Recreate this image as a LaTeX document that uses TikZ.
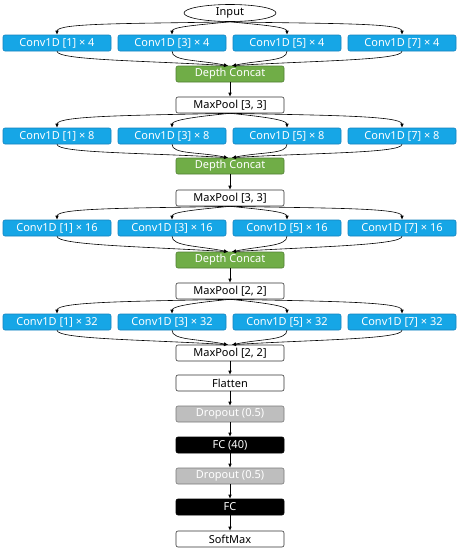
\documentclass[tikz,border=0pt]{standalone}
\usepackage{fontspec}
\setmainfont{Noto Sans}
\usetikzlibrary{arrows.meta,shapes.geometric}
\definecolor{convblue}{RGB}{22,166,230}
\definecolor{convedge}{RGB}{20,130,190}
\definecolor{catgreen}{RGB}{112,173,71}
\definecolor{catedge}{RGB}{80,126,50}
\definecolor{dropgray}{RGB}{190,190,190}
\definecolor{dropedge}{RGB}{120,120,120}
\begin{document}
\begin{tikzpicture}[x=1pt,y=-1pt,
  box/.style={rectangle,rounded corners=2pt,minimum width=108pt,minimum height=16pt,inner sep=0pt,font=\fontsize{11}{12}\selectfont,line width=0.6pt},
  conv/.style={box,fill=convblue,draw=convedge,text=white},
  concat/.style={box,fill=catgreen,draw=catedge,text=white},
  plain/.style={box,fill=white,draw=black!80,text=black},
  drop/.style={box,fill=dropgray,draw=dropedge,text=white},
  fcbox/.style={box,fill=black,draw=black,text=white},
  arr/.style={-{Latex[length=4pt,width=3.6pt]},line width=0.6pt,black}]
\useasboundingbox (0,0) rectangle (460,550);
\node[ellipse,draw,line width=0.6pt,minimum width=92pt,minimum height=17pt,inner sep=0pt,font=\fontsize{11}{12}\selectfont] (in) at (230,13) {Input};
\foreach \r/\y/\n in {1/43/4,2/136/8,3/228/16,4/322/32}{
  \foreach \k/\x in {1/57,3/172,5/287,7/402}{
    \node[conv] (c\r\k) at (\x,\y) {Conv1D [\k] × \n};
  }
}
\node[concat] (dc1) at (230,74) {Depth Concat};
\node[concat] (dc2) at (230,166) {Depth Concat};
\node[concat] (dc3) at (230,260) {Depth Concat};
\node[plain] (mp1) at (230,105) {MaxPool [3, 3]};
\node[plain] (mp2) at (230,198) {MaxPool [3, 3]};
\node[plain] (mp3) at (230,291) {MaxPool [2, 2]};
\node[plain] (mp4) at (230,353) {MaxPool [2, 2]};
\node[plain] (fl) at (230,383) {Flatten};
\node[drop] (do1) at (230,414) {Dropout (0.5)};
\node[fcbox] (fc1) at (230,445) {FC (40)};
\node[drop] (do2) at (230,476) {Dropout (0.5)};
\node[fcbox] (fc2) at (230,507) {FC};
\node[plain] (sm) at (230,539) {SoftMax};
\foreach \s/\r in {in/1,mp1/2,mp2/3,mp3/4}{
  \draw[arr] (\s.south) .. controls +(-95,2) and +(0,-12) .. (c\r1.north);
  \draw[arr] (\s.south) .. controls +(-30,3) and +(0,-8) .. (c\r3.north);
  \draw[arr] (\s.south) .. controls +(30,3) and +(0,-8) .. (c\r5.north);
  \draw[arr] (\s.south) .. controls +(95,2) and +(0,-12) .. (c\r7.north);
}
\foreach \r/\t in {1/dc1,2/dc2,3/dc3,4/mp4}{
  \draw[arr] (c\r1.south) .. controls +(0,9) and +(-80,-5) .. ([xshift=-2pt]\t.north);
  \draw[arr] (c\r3.south) .. controls +(0,10) and +(-30,-6) .. ([xshift=-2pt]\t.north);
  \draw[arr] (c\r5.south) .. controls +(0,10) and +(30,-6) .. ([xshift=2pt]\t.north);
  \draw[arr] (c\r7.south) .. controls +(0,9) and +(80,-5) .. ([xshift=2pt]\t.north);
}
\draw[arr] (dc1) -- (mp1);
\draw[arr] (dc2) -- (mp2);
\draw[arr] (dc3) -- (mp3);
\draw[arr] (mp4) -- (fl);
\draw[arr] (fl) -- (do1);
\draw[arr] (do1) -- (fc1);
\draw[arr] (fc1) -- (do2);
\draw[arr] (do2) -- (fc2);
\draw[arr] (fc2) -- (sm);
\end{tikzpicture}
\end{document}
